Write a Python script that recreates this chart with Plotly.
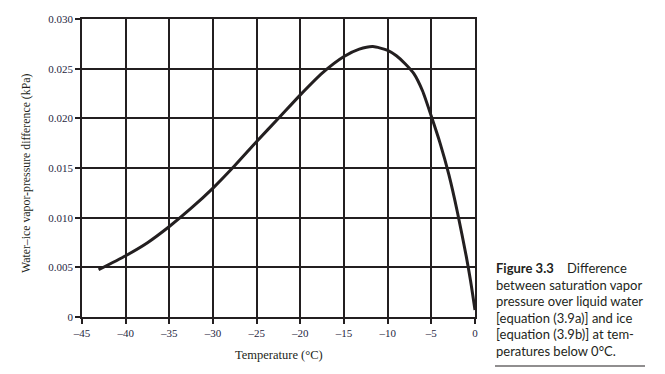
import plotly.graph_objects as go

# Data
temperature_c = [-43.1, -40, -37.5, -35, -32.5, -30, -27.5, -25, -22.5, -20, -17.5, -15,
                 -13.25, -11.7, -10, -9, -8, -7, -6, -5, -4, -3, -2, -1, -0.5, 0]
pressure_diff_kpa = [0.00476, 0.00617, 0.00748, 0.00911, 0.01095, 0.01298, 0.01525, 0.01767,
                     0.02000, 0.02236, 0.02455, 0.02622, 0.02696, 0.02722, 0.02685, 0.02630,
                     0.02550, 0.02450, 0.02275, 0.02020, 0.01750, 0.01435, 0.01050, 0.00610,
                     0.00360, 0.00070]

x_ticks = [-45, -40, -35, -30, -25, -20, -15, -10, -5, 0]
x_ticktext = ["–45", "–40", "–35", "–30", "–25", "–20", "–15", "–10", "–5", "0"]
y_ticks = [0, 0.005, 0.010, 0.015, 0.020, 0.025, 0.030]
y_ticktext = ["0", "0.005", "0.010", "0.015", "0.020", "0.025", "0.030"]

caption_lines = [
    "<b>Figure 3.3</b>    Difference",
    "between saturation vapor",
    "pressure over liquid water",
    "[equation (3.9a)] and ice",
    "[equation (3.9b)] at tem-",
    "peratures below 0°C.",
]

serif = "Liberation Serif"
ink = "#231f20"

# page has an 8px body margin; figure coords = page coords - 8
OFF = 8
W, H = 665, 374
L, T = 82 - OFF, 19 - OFF
R = W - (475 - OFF)
B = H - (317 - OFF)
pw, ph = W - L - R, H - T - B


def px_x(page_x):
    return (page_x - OFF - L) / pw


def px_y(page_y):
    return (H - B - (page_y - OFF)) / ph


fig = go.Figure()
fig.add_trace(go.Scatter(
    x=temperature_c, y=pressure_diff_kpa, mode="lines",
    line=dict(color=ink, width=3, shape="spline", smoothing=0.6),
    showlegend=False, hoverinfo="skip",
))

axis_common = dict(
    showline=True, linecolor=ink, linewidth=1.5, mirror=True,
    showgrid=True, gridcolor=ink, gridwidth=1.5,
    zeroline=False, ticks="outside", ticklen=5, tickwidth=1.5, tickcolor=ink,
    tickfont=dict(family=serif, size=11, color="#1f1f3f"),
    automargin=False,
)

fig.update_layout(
    width=W, height=H,
    margin=dict(l=L, r=R, t=T, b=B),
    paper_bgcolor="white", plot_bgcolor="white",
    xaxis=dict(range=[-45, 0], tickvals=x_ticks, ticktext=x_ticktext, **axis_common),
    yaxis=dict(range=[0, 0.030], tickvals=y_ticks, ticktext=y_ticktext, **axis_common),
)

# axis titles
fig.add_annotation(
    xref="paper", yref="paper", x=px_x(279), y=px_y(355), xanchor="center", yanchor="middle",
    text="Temperature (°C)", showarrow=False, font=dict(family=serif, size=12.5, color=ink),
)
fig.add_annotation(
    xref="paper", yref="paper", x=px_x(26), y=px_y(174), xanchor="center", yanchor="middle",
    text="Water–ice vapor-pressure difference (kPa)", textangle=-90, showarrow=False,
    font=dict(family=serif, size=11.8, color=ink),
)

for i, line in enumerate(caption_lines):
    fig.add_annotation(
        xref="paper", yref="paper", x=px_x(494), xanchor="left",
        y=px_y(268 + 16.5 * i), yanchor="middle",
        text=line, showarrow=False, align="left",
        font=dict(family="Lato", size=13, color=ink),
    )

fig.add_shape(type="line", xref="paper", yref="paper",
              x0=px_x(495), x1=px_x(645), y0=px_y(366), y1=px_y(366),
              line=dict(color=ink, width=1.2))

fig.write_html("out.html")
